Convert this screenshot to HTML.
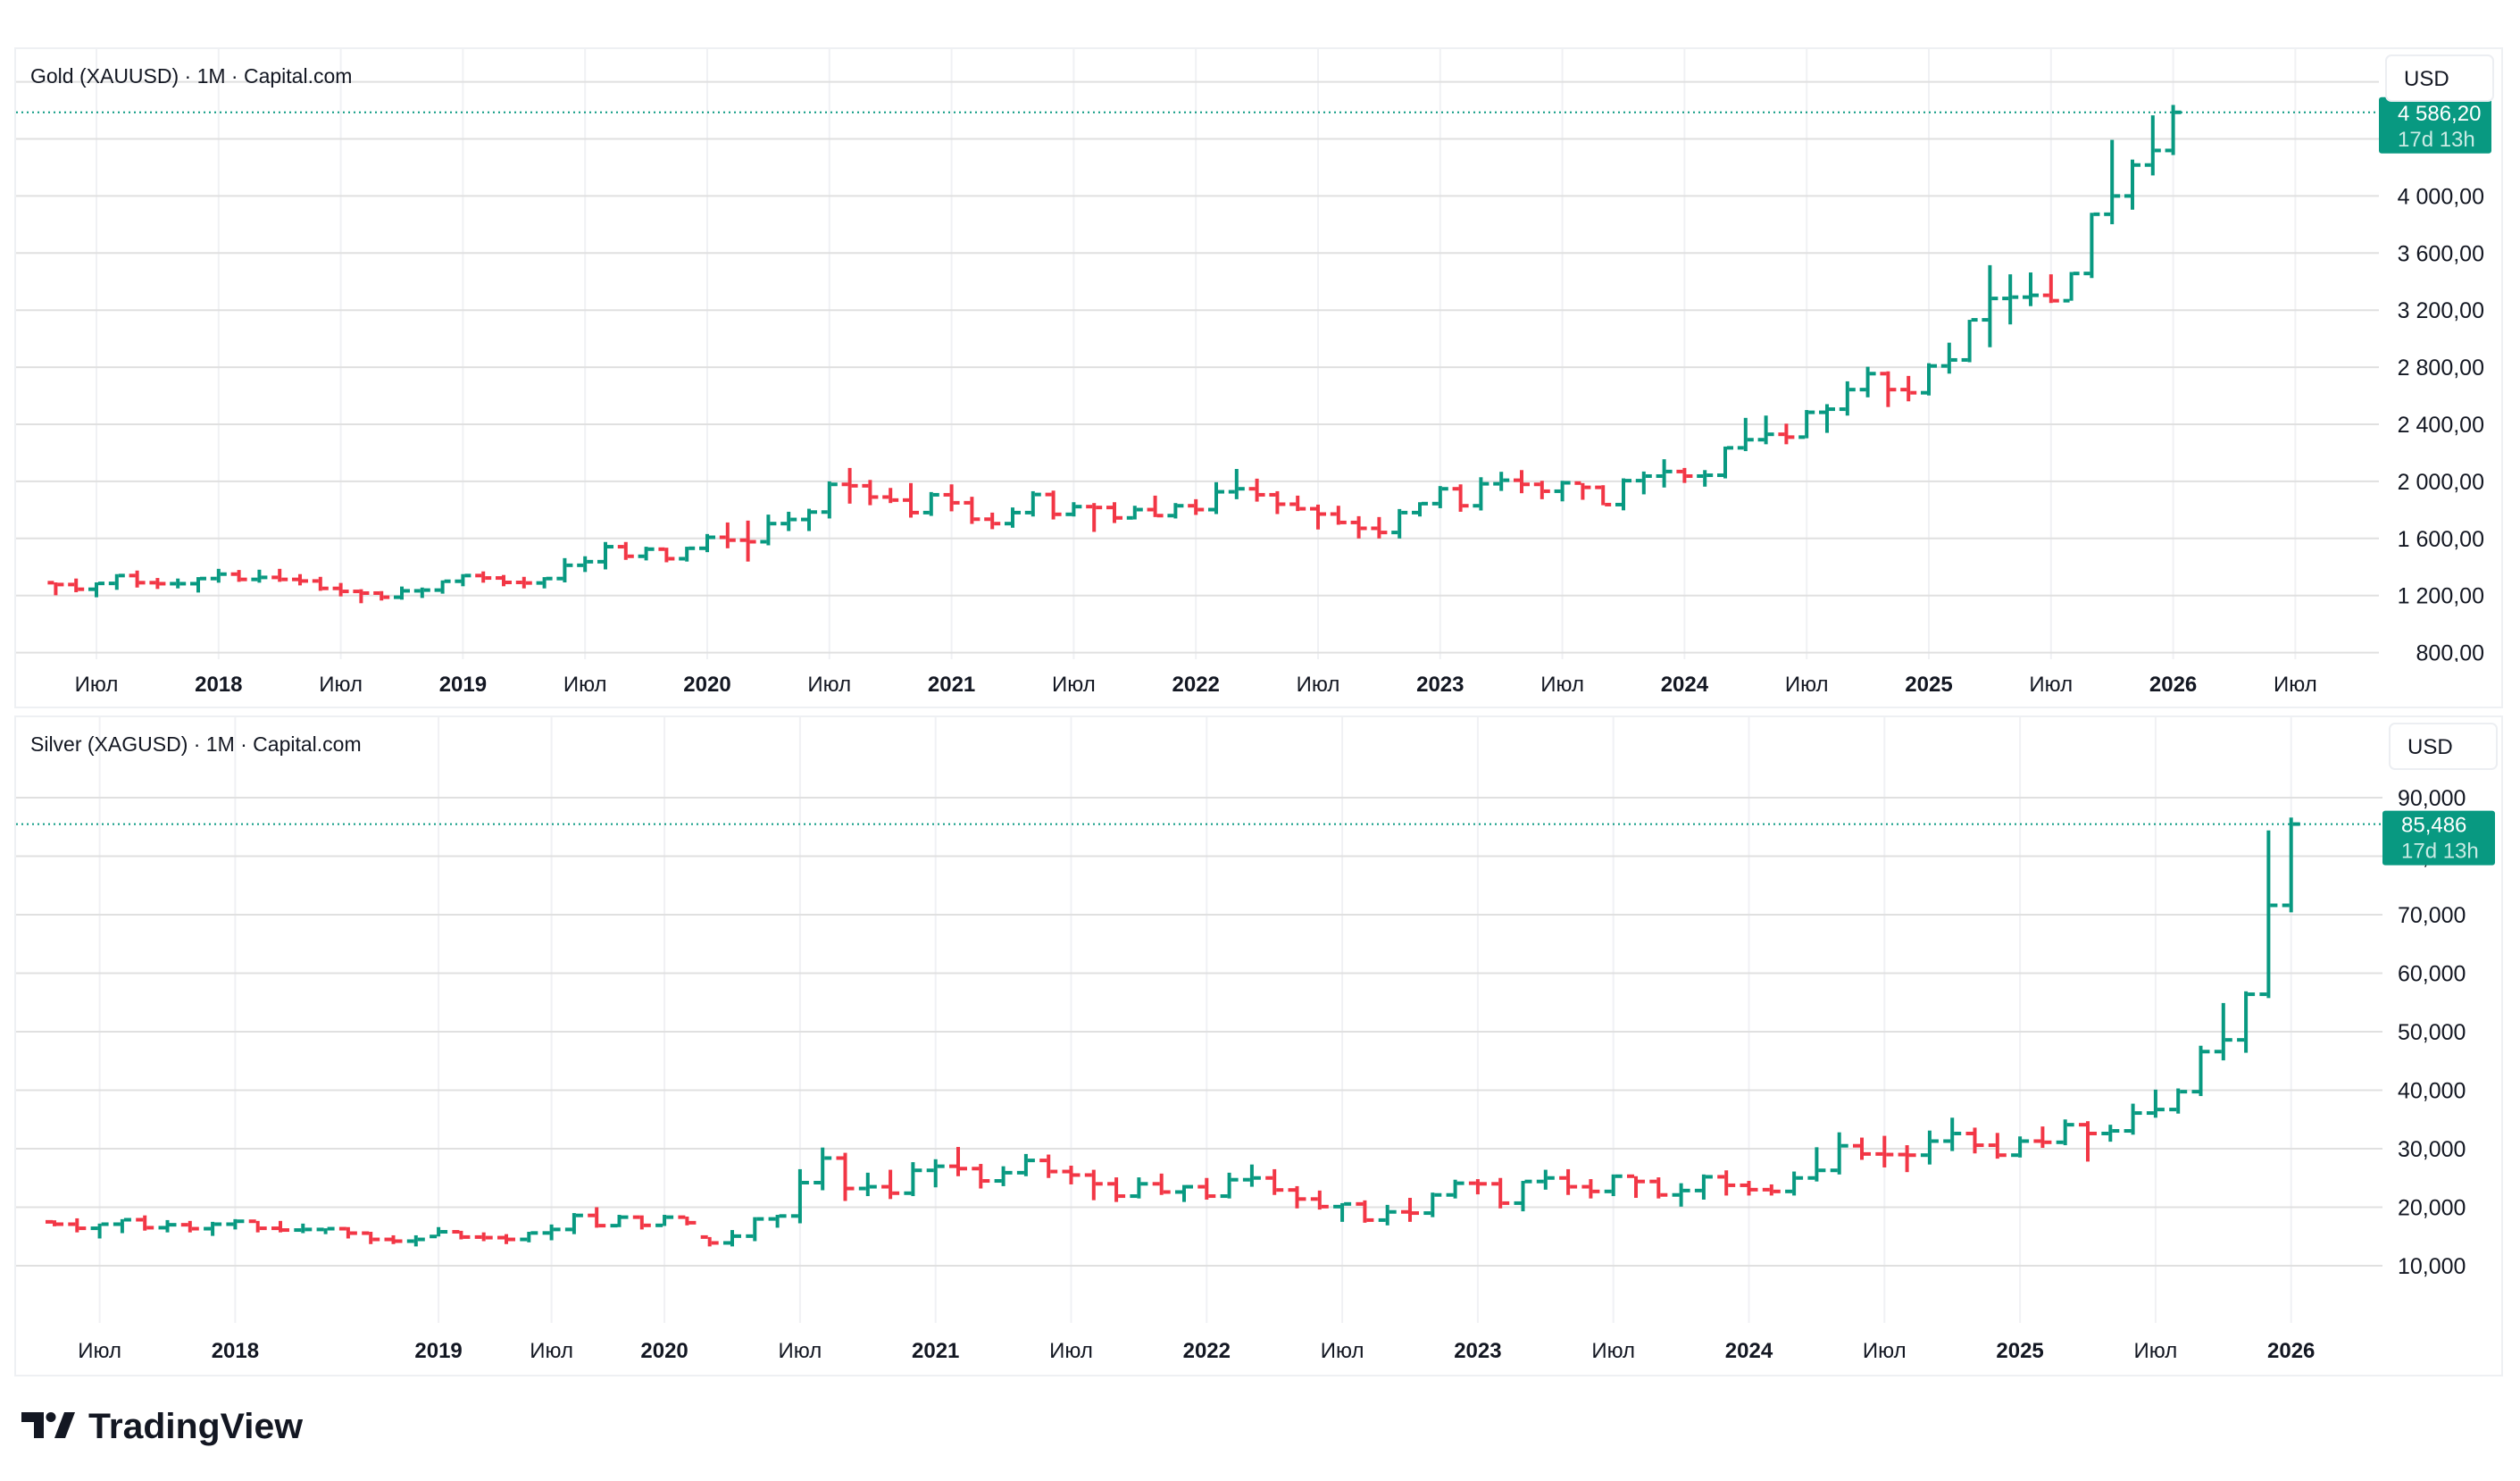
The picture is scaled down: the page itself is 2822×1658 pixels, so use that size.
<!DOCTYPE html>
<html><head><meta charset="utf-8"><title>Gold & Silver</title>
<style>
html,body{margin:0;padding:0;background:#fff;}
svg{display:block;font-family:"Liberation Sans",sans-serif;}
</style></head>
<body>
<svg id="chart" width="2822" height="1658" viewBox="0 0 2822 1658" xmlns="http://www.w3.org/2000/svg">
  <defs>
    <clipPath id="goldAxisClip"><rect x="2664" y="55" width="140" height="686"/></clipPath>
    <clipPath id="silverAxisClip"><rect x="2664" y="803" width="140" height="680"/></clipPath>
  </defs>
  <rect x="0" y="0" width="2822" height="1658" fill="#ffffff"/>
  <rect x="17" y="54" width="2785" height="738" fill="#fff" stroke="#eef0f3" stroke-width="2"/>
  <rect x="17" y="802" width="2785" height="738" fill="#fff" stroke="#eef0f3" stroke-width="2"/>
  <g id="goldLayer"></g>
  <g id="silverLayer"></g>
  <g>
    <path d="M24,1581 H49 V1610 H38 V1592 H24 Z" fill="#131722"/>
    <circle cx="57" cy="1586.5" r="5.5" fill="#131722"/>
    <path d="M61,1610 L72,1581 H84 L73,1610 Z" fill="#131722"/>
    <text x="99" y="1610" font-size="40" font-weight="bold" fill="#131722" textLength="240" lengthAdjust="spacingAndGlyphs">TradingView</text>
  </g>
</svg>
<script>
// ---------- GOLD DATA (monthly, May 2017 .. Jan 2026) ----------
const goldHigh = [1292,1319,1292,1350,1375,1323,1319,1329,1387,1379,1381,1387,1350,1331,1288,1244,1231,1263,1256,1306,1350,1369,1344,1331,1329,1462,1475,1575,1575,1542,1535,1542,1631,1712,1725,1767,1787,1808,2000,
2094,2010,1954,1988,1925,1979,1892,1781,1817,1931,1935,1854,1848,1854,1829,1900,1848,1875,1994,2087,2019,1931,1900,1837,1829,1756,1750,1806,1854,1967,1979,2029,2067,2079,2004,2004,1988,1973,
2021,2069,2155,2094,2079,2244,2445,2461,2404,2500,2541,2701,2803,2771,2739,2828,2972,3132,3515,3451,3464,3451,3467,3882,4393,4255,4565,4638];
const goldLow = [1202,1223,1188,1240,1256,1246,1250,1221,1290,1296,1290,1296,1271,1233,1194,1146,1165,1171,1183,1213,1265,1290,1265,1250,1250,1292,1365,1383,1450,1446,1433,1438,1504,1531,1438,1552,1652,1652,1740,
1844,1833,1848,1746,1758,1790,1702,1665,1675,1754,1733,1754,1646,1708,1733,1750,1740,1765,1771,1875,1858,1771,1792,1663,1696,1600,1600,1600,1754,1812,1787,1796,1933,1917,1875,1860,1871,1833,
1797,1909,1957,1989,1963,2021,2212,2260,2260,2302,2340,2461,2589,2521,2561,2602,2755,2835,2940,3100,3228,3250,3266,3425,3802,3904,4144,4287];
const goldClose = [1277,1244,1285,1340,1290,1283,1283,1319,1350,1313,1327,1313,1302,1250,1229,1217,1188,1233,1238,1300,1340,1323,1292,1288,1319,1412,1437,1542,1475,1525,1458,1531,1608,1588,1577,1704,1733,1785,1979,
1969,1890,1869,1781,1906,1850,1735,1704,1781,1908,1769,1823,1817,1744,1802,1760,1829,1802,1927,1948,1906,1840,1808,1771,1712,1671,1642,1781,1844,1948,1829,1983,2008,1979,1931,1990,1958,1837,
2005,2037,2069,2037,2043,2235,2292,2330,2310,2484,2506,2643,2755,2643,2621,2809,2851,3132,3282,3291,3304,3266,3457,3872,4000,4217,4319,4586.2];
const goldFirstOpen = 1290;
const goldTicks = [800,1200,1600,2000,2400,2800,3200,3600,4000,4400,4800];
const goldTickLabels = ["800,00","1 200,00","1 600,00","2 000,00","2 400,00","2 800,00","3 200,00","3 600,00","4 000,00","4 400,00","4 800,00"];
const goldTimeIdx = [2,8,14,20,26,32,38,44,50,56,62,68,74,80,86,92,98,104,110];
const goldTimeLabels = ["Июл","2018","Июл","2019","Июл","2020","Июл","2021","Июл","2022","Июл","2023","Июл","2024","Июл","2025","Июл","2026","Июл"];
const goldLast = "4 586,20";

// ---------- SILVER DATA (in thousands of price units) ----------
const silverHigh = [17.76,18.1,17.2,17.96,18.6,17.8,17.66,17.5,17.96,17.66,17.66,17.2,16.4,16.6,15.8,15.2,15.2,16.6,15.97,15.7,
15.4,15.8,17.05,19.0,20.0,18.7,18.6,18.7,18.4,14.9,16.1,18.3,18.7,26.5,30.2,29.3,25.9,26.4,27.7,28.2,
30.3,27.4,27.0,29.1,29.0,27.1,26.4,25.1,25.1,25.75,23.8,25.0,25.9,27.3,26.5,23.6,22.85,20.7,21.17,20.4,
21.6,22.5,24.7,24.8,25.0,24.5,26.4,26.5,24.8,25.6,25.3,25.1,24.1,25.6,26.3,24.5,23.9,26.1,30.25,32.8,
31.9,32.2,30.6,33.1,35.3,33.6,32.7,32.1,33.8,35.0,34.7,34.1,37.7,40.1,40.3,47.6,54.9,56.9,84.4,86.6];
const silverLow = [16.74,15.7,14.66,15.57,16.0,15.7,15.7,15.1,16.2,15.7,15.7,15.57,15.4,14.66,13.7,13.7,13.3,15.0,14.5,14.2,
13.7,14.0,14.35,15.4,16.5,16.6,16.2,16.8,16.9,13.3,13.3,14.2,16.5,17.25,22.9,21.07,21.9,21.4,21.9,23.4,
25.3,23.2,23.6,25.3,25.0,23.9,21.2,20.9,21.5,22.1,20.9,21.3,21.5,23.5,22.1,19.8,19.6,17.5,17.35,16.9,
17.5,18.3,21.5,22.2,19.8,19.3,23.0,22.1,21.5,21.9,21.6,21.5,20.1,21.3,22.0,22.0,22.0,22.0,24.4,25.6,
28.1,26.8,26.0,27.3,29.6,29.2,28.3,28.5,30.15,30.6,27.8,31.2,32.4,35.3,36.0,39.0,45.1,46.4,55.75,70.4];
const silverClose = [17.1,16.4,17.1,17.86,16.5,17.0,16.33,17.1,17.6,16.4,16.1,16.2,16.33,15.57,14.5,14.2,14.5,15.8,14.9,14.8,
14.5,15.6,16.2,18.6,16.85,18.3,16.9,18.3,17.35,13.9,15.06,18.0,18.5,24.2,28.4,23.2,23.5,22.4,26.3,27.0,
26.6,24.5,25.9,28.0,26.1,25.5,24.0,21.9,24.0,22.6,23.5,21.9,24.7,25.0,22.95,21.4,20.1,20.56,17.8,19.2,
19.0,22.1,24.1,24.0,20.7,24.4,25.0,23.5,22.7,25.3,24.4,22.1,22.85,25.2,23.75,23.0,22.7,25.0,26.3,30.5,
29.1,29.0,28.9,31.3,32.6,30.6,28.9,31.3,31.1,34.1,32.6,33.05,36.1,36.7,39.75,46.6,48.6,56.4,71.6,85.486];
const silverFirstOpen = 17.5;
const silverTicks = [10,20,30,40,50,60,70,80,90];
const silverTickLabels = ["10,000","20,000","30,000","40,000","50,000","60,000","70,000","80,000","90,000"];
const silverTimeIdx = [2,8,17,22,27,33,39,45,51,57,63,69,75,81,87,93,99];
const silverTimeLabels = ["Июл","2018","2019","Июл","2020","Июл","2021","Июл","2022","Июл","2023","Июл","2024","Июл","2025","Июл","2026"];
const silverLast = "85,486";

const NS = "http://www.w3.org/2000/svg";
const UP = "#089981", DN = "#F23645";
function mk(parent, tag, attrs, text) {
  const e = document.createElementNS(NS, tag);
  for (const k in attrs) e.setAttribute(k, attrs[k]);
  if (text !== undefined) e.textContent = text;
  parent.appendChild(e);
  return e;
}

function drawPanel(layer, cfg) {
  const yOf = v => cfg.yRef + (cfg.vRef - v) * cfg.pxPerUnit;
  const xOf = i => cfg.x0 + i * cfg.step;
  cfg.timeIdx.forEach((ti, k) => {
    const g = mk(layer, "line", {x1: xOf(ti), x2: xOf(ti), y1: cfg.top, y2: cfg.plotBottom, stroke: "#f0f1f4", "stroke-width": 2});
    
    
  });
  cfg.ticks.forEach((v, k) => {
    const y = yOf(v);
    if (y < cfg.top || y > cfg.plotBottom) return;
    const g = mk(layer, "line", {x1: 18, x2: cfg.plotRight, y1: y, y2: y, stroke: "#e0e0e0", "stroke-width": 2});
    
    
  });
  const axisG = mk(layer, "g", {"clip-path": "url(#" + cfg.clipId + ")"});
  
  
  cfg.ticks.forEach((v, k) => {
    const y = yOf(v);
    if (y < cfg.top || y > cfg.plotBottom + 10) return;
    const t = mk(axisG, "text", {x: cfg.labelX, y: y + 9, "font-size": 25, fill: "#131722", "text-anchor": cfg.labelAnchor}, cfg.tickLabels[k]);
    
    
  });
  cfg.timeIdx.forEach((ti, k) => {
    const lbl = cfg.timeLabels[k];
    const isYear = /^\d{4}$/.test(lbl);
    const t = mk(layer, "text", {x: xOf(ti), y: cfg.timeY, "font-size": 24, "font-weight": isYear ? "bold" : "normal", fill: "#131722", "text-anchor": "middle"}, lbl);
    
    
  });
  const tt = mk(layer, "text", {x: 34, y: cfg.titleY, "font-size": 23, fill: "#131722"}, cfg.title);
  
  
  const lastY = yOf(cfg.close[cfg.close.length - 1]);
  const dl = mk(layer, "line", {x1: 18, x2: cfg.plotRight, y1: lastY, y2: lastY, stroke: UP, "stroke-width": 2, "stroke-dasharray": "2 4"});
  
  
  const half = 2, tick = cfg.tick;
  for (let i = 0; i < cfg.close.length; i++) {
    const H = cfg.high[i], L = cfg.low[i], C = cfg.close[i];
    let O = i === 0 ? cfg.firstOpen : cfg.close[i - 1];
    O = Math.min(Math.max(O, L), H);
    const col = C >= O ? UP : DN;
    const x = xOf(i);
    const g = mk(layer, "g", {fill: col});
    
    
    const yH = yOf(H), yL = yOf(L);
    mk(g, "rect", {x: x - half, y: yH, width: 2 * half, height: Math.max(yL - yH, 4)});
    mk(g, "rect", {x: x - half - tick, y: yOf(O) - 2, width: tick, height: 4});
    mk(g, "rect", {x: x + half, y: yOf(C) - 2, width: tick, height: 4});
  }
  const bx = mk(layer, "rect", {x: cfg.plotRight, y: lastY - cfg.badgeUp, width: 126, height: 46 + cfg.badgeUp, rx: 3, fill: UP});
  
  
  const l1 = mk(layer, "text", {x: cfg.plotRight + 21, y: lastY + 9, "font-size": 24, fill: "#ffffff"}, cfg.lastLabel);
  
  
  const l2 = mk(layer, "text", {x: cfg.plotRight + 21, y: lastY + 38, "font-size": 24, fill: "#c9ebe4"}, "17d 13h");
  
  
  const ub = mk(layer, "rect", {x: cfg.plotRight + 8, y: cfg.usdY, width: 120, height: 51, rx: 6, fill: "#ffffff", stroke: "#eceef2", "stroke-width": 2});
  
  
  const ut = mk(layer, "text", {x: cfg.plotRight + 28, y: cfg.usdY + 34, "font-size": 24, fill: "#131722"}, "USD");
  
  
}

drawPanel(document.getElementById("goldLayer"), {
  high: goldHigh, low: goldLow, close: goldClose, firstOpen: goldFirstOpen,
  ticks: goldTicks, tickLabels: goldTickLabels, timeIdx: goldTimeIdx, timeLabels: goldTimeLabels,
  yRef: 219.4, vRef: 4000, pxPerUnit: 63.9 / 400, x0: 62.4, step: 22.8, tick: 7,
  top: 55, plotBottom: 738, plotRight: 2664, labelX: 2782, labelAnchor: "end", clipId: "goldAxisClip",
  timeY: 774, titleY: 93, title: "Gold (XAUUSD) · 1M · Capital.com", lastLabel: goldLast, usdY: 62, badgeUp: 17
});
drawPanel(document.getElementById("silverLayer"), {
  high: silverHigh, low: silverLow, close: silverClose, firstOpen: silverFirstOpen,
  ticks: silverTicks, tickLabels: silverTickLabels, timeIdx: silverTimeIdx, timeLabels: silverTimeLabels,
  yRef: 1417, vRef: 10, pxPerUnit: 6.55, x0: 61, step: 25.3, tick: 8,
  top: 803, plotBottom: 1481, plotRight: 2668, labelX: 2685, labelAnchor: "start", clipId: "silverAxisClip",
  timeY: 1520, titleY: 841, title: "Silver (XAGUSD) · 1M · Capital.com", lastLabel: silverLast, usdY: 810, badgeUp: 15
});
</script>
</body></html>
